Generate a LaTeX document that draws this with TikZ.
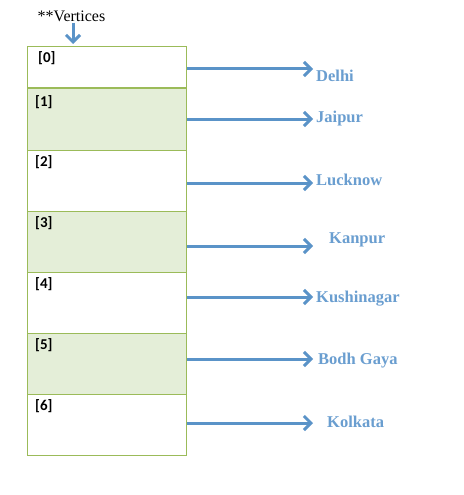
\documentclass[tikz,border=0pt]{standalone}
\usepackage{fontspec}
\setmainfont{Liberation Serif}
\newfontfamily\idxfont{Carlito}
\usetikzlibrary{arrows.meta}
\definecolor{cellgreen}{HTML}{9BBB59}
\definecolor{cellfill}{HTML}{E4EED8}
\definecolor{arrblue}{HTML}{5A93C8}
\definecolor{cityblue}{HTML}{6A9ED0}
\tikzset{
  cell/.style={draw=cellgreen, line width=1pt, minimum width=159pt, anchor=north west, inner sep=0pt},
  idx/.style={anchor=north west, inner sep=0pt, font=\idxfont\bfseries\fontsize{15}{17}\selectfont},
  city/.style={anchor=west, inner sep=0pt, text=cityblue, font=\bfseries\fontsize{16.5}{18}\selectfont},
  link/.style={draw=arrblue, line width=3pt, -{Straight Barb[length=7pt, width=14pt]}}
}
\begin{document}
\begin{tikzpicture}[x=1pt, y=-1pt]
    \useasboundingbox[fill=white] (0,0) rectangle (463,495);

    % vertex array
    \node[cell, minimum height=42pt] (r0) at (27,46) {};
    \node[cell, fill=cellfill, minimum height=62pt] (r1) at (27,88) {};
    \node[cell, minimum height=61pt] (r2) at (27,150) {};
    \node[cell, fill=cellfill, minimum height=61pt] (r3) at (27,211) {};
    \node[cell, minimum height=61pt] (r4) at (27,272) {};
    \node[cell, fill=cellfill, minimum height=61pt] (r5) at (27,333) {};
    \node[cell, minimum height=61pt] (r6) at (27,394) {};
    \draw[cellgreen, line width=2.5pt] (r1.north west) -- (r1.north east);

    \node[idx] (i0) at ([shift={(11,5)}]r0.north west) {[0]};
    \node[idx] (i1) at ([shift={(8,7)}]r1.north west) {[1]};
    \node[idx] (i2) at ([shift={(8,5)}]r2.north west) {[2]};
    \node[idx] (i3) at ([shift={(8,5)}]r3.north west) {[3]};
    \node[idx] (i4) at ([shift={(8,5)}]r4.north west) {[4]};
    \node[idx] (i5) at ([shift={(8,5)}]r5.north west) {[5]};
    \node[idx] (i6) at ([shift={(8,5)}]r6.north west) {[6]};

    % head
    \node[font=\fontsize{16}{18}\selectfont, inner sep=1pt] (vx) at (71.5,16) {**Vertices};
    \coordinate (vt) at (73,44);
    \draw[link] (vx.south -| vt) -- (vt);

    % cities
    \node[city] (c0) at (316,76) {Delhi};
    \node[city] (c1) at (316,119) {Jaipur};
    \node[city] (c2) at (316,180) {Lucknow};
    \node[city] (c3) at (329,240) {Kanpur};
    \node[city] (c4) at (316,299) {Kushinagar};
    \node[city] (c5) at (318,361) {Bodh Gaya};
    \node[city] (c6) at (327,422) {Kolkata};

    \coordinate (t0) at (313,69);
    \coordinate (t1) at (313,119);
    \coordinate (t2) at (313,183);
    \coordinate (t3) at (313,246);
    \coordinate (t4) at (313,297);
    \coordinate (t5) at (313,359);
    \coordinate (t6) at (313,423);
    \draw[link] (r0.east |- t0) -- (t0);
    \draw[link] (r1.east |- t1) -- (t1);
    \draw[link] (r2.east |- t2) -- (t2);
    \draw[link] (r3.east |- t3) -- (t3);
    \draw[link] (r4.east |- t4) -- (t4);
    \draw[link] (r5.east |- t5) -- (t5);
    \draw[link] (r6.east |- t6) -- (t6);

\end{tikzpicture}
\end{document}
